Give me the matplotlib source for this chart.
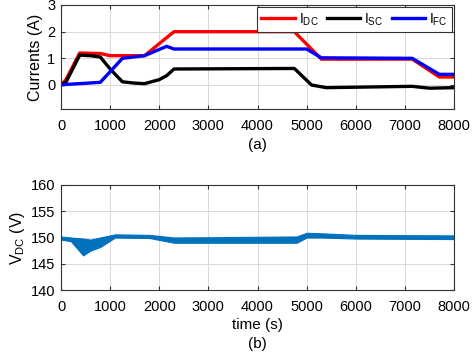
import matplotlib
matplotlib.use("Agg")
import matplotlib.pyplot as plt
import numpy as np

plt.rcParams['font.family'] = ['Liberation Sans', 'DejaVu Sans']

# --- data ---
t_dc = [0, 100, 380, 800, 1000, 1700, 2300, 4750, 5300, 7150, 7700, 8000]
i_dc = [0.0, 0.2, 1.2, 1.18, 1.1, 1.1, 2.0, 2.0, 0.97, 0.97, 0.3, 0.3]

t_sc = [0, 100, 380, 600, 800, 1000, 1250, 1500, 1700, 2000, 2150, 2300, 4750, 5100, 5400, 7150, 7500, 8000]
i_sc = [0.0, 0.1, 1.12, 1.1, 1.05, 0.6, 0.12, 0.07, 0.05, 0.2, 0.35, 0.6, 0.62, 0.0, -0.1, -0.05, -0.12, -0.1]

t_fc = [0, 100, 800, 1000, 1250, 1700, 2150, 2300, 5000, 5300, 7150, 7700, 8000]
i_fc = [0.0, 0.02, 0.1, 0.5, 1.0, 1.1, 1.45, 1.35, 1.35, 1.02, 1.0, 0.4, 0.4]

t_v = [0, 200, 450, 600, 800, 1100, 1800, 2300, 4800, 5000, 5300, 6000, 8000]
v_hi = [150.2, 150.0, 149.8, 149.6, 150.0, 150.6, 150.5, 150.0, 150.2, 150.9, 150.8, 150.5, 150.4]
v_lo = [149.6, 149.3, 146.6, 147.5, 148.2, 150.0, 149.9, 149.0, 149.0, 150.0, 150.0, 149.8, 149.7]

xticks = [0, 1000, 2000, 3000, 4000, 5000, 6000, 7000, 8000]

fig = plt.figure(figsize=(4.74, 3.57), dpi=100)
W, H = 474, 357
ax1 = fig.add_axes([61/W, 1-109/H, (454-61)/W, (109-5)/H])
ax2 = fig.add_axes([61/W, 1-290/H, (454-61)/W, (290-185)/H])

ax1.plot(t_dc, i_dc, color='#ff0000', lw=2.4, label='I$_{\\mathregular{DC}}$')
ax1.plot(t_sc, i_sc, color='black', lw=2.4, label='I$_{\\mathregular{SC}}$')
ax1.plot(t_fc, i_fc, color='#0000ff', lw=2.4, label='I$_{\\mathregular{FC}}$')
ax1.set_xlim(0, 8000)
ax1.set_ylim(-0.9, 3)
ax1.set_yticks([0, 1, 2, 3])
ax1.set_xticks(xticks)
ax1.set_ylabel('Currents (A)', fontsize=11.5, labelpad=3)
ax1.set_xlabel('(a)', fontsize=11, labelpad=4)
leg = ax1.legend(loc='upper right', ncol=3, fontsize=10, frameon=True, fancybox=False,
                 edgecolor='#333333', framealpha=1, borderpad=0.3, handlelength=2.4,
                 handletextpad=0.3, columnspacing=0.6, borderaxespad=0.15)
leg.get_frame().set_linewidth(0.8)

ax2.fill_between(t_v, v_lo, v_hi, color='#0072BD', lw=0.8, edgecolor='#0072BD')
ax2.set_xlim(0, 8000)
ax2.set_ylim(140, 160)
ax2.set_yticks([140, 145, 150, 155, 160])
ax2.set_xticks(xticks)
ax2.set_ylabel('V$_{\\mathregular{DC}}$ (V)', fontsize=11.5, labelpad=3)
ax2.set_xlabel('time (s)\n(b)', fontsize=11, labelpad=3, linespacing=1.45)

for ax in (ax1, ax2):
    ax.grid(True, color='#d8d8d8', lw=0.7)
    ax.set_axisbelow(True)
    ax.tick_params(direction='in', labelsize=10.5, length=3, color='#333333', top=True, right=True)
    ax.tick_params(axis='x', pad=7)
    ax.tick_params(axis='y', pad=4)
    for s in ax.spines.values():
        s.set_color('#333333')
        s.set_linewidth(0.8)

fig.savefig('out.png', dpi=100)
